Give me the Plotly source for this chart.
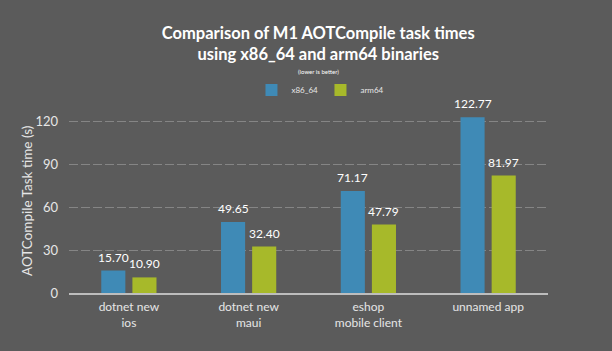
import plotly.graph_objects as go

categories = ["dotnet new<br>ios", "dotnet new<br>maui", "eshop<br>mobile client", "unnamed app"]
x86_64 = [15.70, 49.65, 71.17, 122.77]
arm64 = [10.90, 32.40, 47.79, 81.97]
y_ticks = [0, 30, 60, 90, 120]

BG = "#5B5B5B"
FONT = "Lato, 'Open Sans', sans-serif"
PLOT_W = 612 - 69 - 64
PLOT_H = 351 - 114 - 58
BAR_OFFSET = 15.5  # px from category centre to bar centre

fig = go.Figure()
fig.add_bar(x=categories, y=x86_64, name="x86_64", marker_color="#3F8AB6",
            marker_line_width=0)
fig.add_bar(x=categories, y=arm64, name="arm64", marker_color="#A7B92A",
            marker_line_width=0)

for series, shift in ((x86_64, -BAR_OFFSET), (arm64, BAR_OFFSET)):
    for cat, val in zip(categories, series):
        fig.add_annotation(x=cat, y=val, text=f"{val:.2f}", showarrow=False,
                           xshift=shift, yshift=4, yanchor="bottom",
                           font=dict(color="#FFFFFF", size=12, family=FONT))

fig.update_layout(
    width=612, height=351,
    paper_bgcolor=BG, plot_bgcolor=BG,
    margin=dict(l=69, r=64, t=114, b=58),
    barmode="group", bargap=0.48, bargroupgap=0.226,
    font=dict(family=FONT, color="#E6E6E6"),
    title=dict(text="<b>Comparison of M1 AOTCompile task times<br>using x86_64 and arm64 binaries</b>",
               x=0.52, xanchor="center", y=1 - 39 / 351, yanchor="middle",
               font=dict(size=16.5, color="#FFFFFF", family=FONT)),
    legend=dict(orientation="h", x=0.525, xanchor="center",
                y=(351 - 58 - 90) / PLOT_H, yanchor="middle",
                font=dict(size=8, color="#E6E6E6"), bgcolor="rgba(0,0,0,0)",
                itemwidth=30, entrywidth=24, entrywidthmode="pixels",
                traceorder="normal"),
)
fig.add_annotation(text="(lower is better)", x=0.52, xref="paper", xanchor="center",
                   y=(351 - 58 - 71) / PLOT_H, yref="paper", yanchor="middle",
                   showarrow=False, font=dict(size=6, color="#FFFFFF"))
fig.add_annotation(text="AOTCompile Task time (s)", textangle=-90,
                   x=(27 - 69) / PLOT_W, xref="paper", xanchor="center",
                   y=(293 - 201) / PLOT_H, yref="paper", yanchor="middle",
                   showarrow=False, font=dict(size=13.5, color="#E6E6E6", family=FONT))

fig.update_yaxes(range=[0, 125], tickvals=y_ticks, showgrid=True, gridcolor="#858585",
                 griddash="9px,3px", gridwidth=1, zeroline=False,
                 tickfont=dict(size=13, color="#E6E6E6"), ticks="", ticklabelstandoff=10)
fig.update_xaxes(showline=True, linecolor="#BDBDBD", linewidth=1.5, showgrid=False,
                 tickfont=dict(size=12, color="#E6E6E6"), ticks="", ticklabelstandoff=2)

fig.write_html("out.html")
